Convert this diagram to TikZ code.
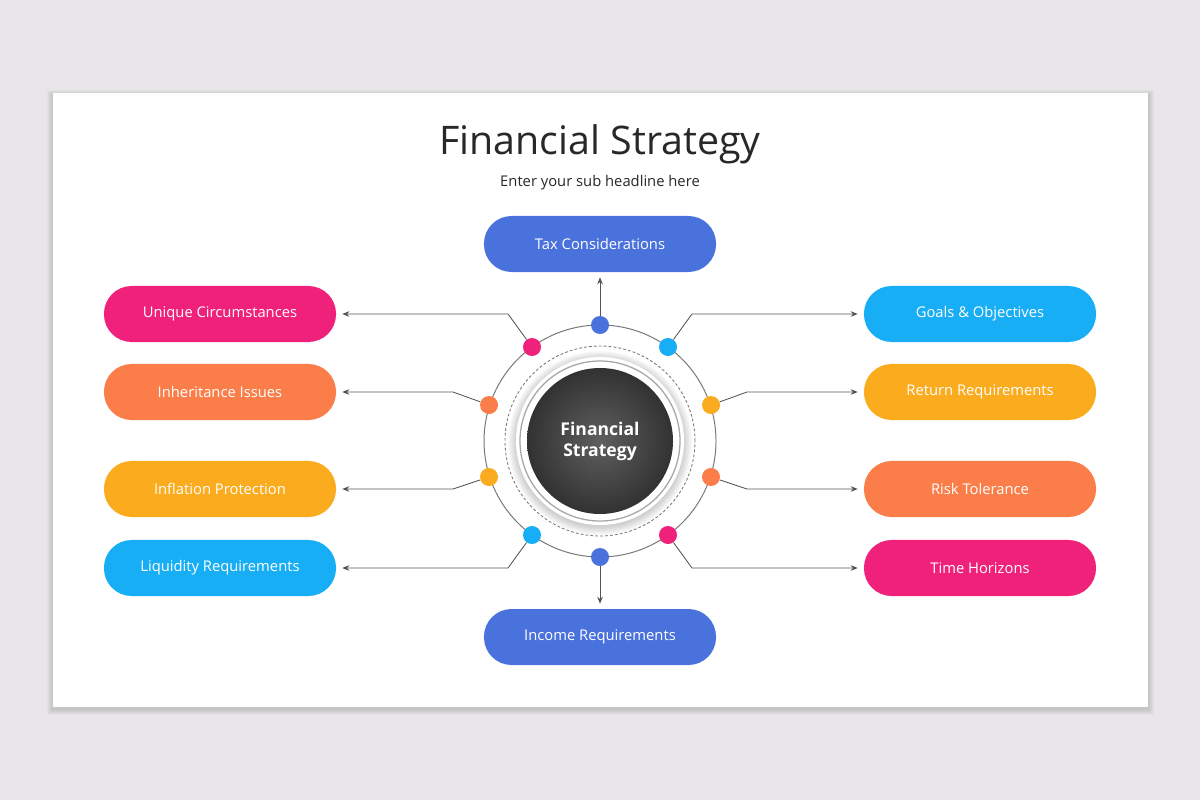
\documentclass[tikz,border=0pt]{standalone}
\usepackage{fontspec}
\setmainfont{Open Sans}
\usetikzlibrary{arrows.meta}
\definecolor{cblue}{HTML}{4A72DD}
\definecolor{cpink}{HTML}{F0217A}
\definecolor{corange}{HTML}{FB7E4A}
\definecolor{cyellow}{HTML}{FBAB1E}
\definecolor{ccyan}{HTML}{17AEF5}
\definecolor{cline}{HTML}{555555}
\definecolor{cbg}{HTML}{E8E6E8}
\definecolor{ctext}{HTML}{282828}
\begin{document}
\begin{tikzpicture}[x=0.025cm,y=-0.025cm,
 pill/.style={rounded corners=0.69cm,minimum width=5.8cm,minimum height=1.4cm,text=white,font=\fontsize{10.5}{12}\selectfont,inner sep=0pt},
 dot/.style={circle,minimum size=0.45cm,inner sep=0pt},
 conn/.style={draw=cline,line width=0.6pt,-{Stealth[length=5pt,width=4pt]}}]
\fill[cbg] (0,0) rectangle (1200,800);
\useasboundingbox (0,0) rectangle (1200,800);
\foreach \i in {1,...,6}{\fill[black,opacity=0.025] (53-\i,93-\i+3) rectangle (1148+\i,707+\i+2);}
\fill[white] (53,93) rectangle (1148,707);
\node[text=ctext,font=\fontsize{28}{32}\selectfont] (title) at (600,144) {Financial Strategy};
\node[text=ctext,font=\fontsize{10.5}{12}\selectfont] (sub) at (600,183) {Enter your sub headline here};
% rings
\draw[cline!80,line width=0.7pt] (600,441) circle[radius=116*0.025cm];
\draw[cline!80,line width=0.6pt,dash pattern=on 2pt off 1.5pt] (600,441) circle[radius=95*0.025cm];
\foreach \i in {1,...,6}{\fill[black,opacity=0.03] (600,443) circle[radius={(83+\i*1.5)*0.025cm}];}
\fill[white] (600,441) circle[radius=84*0.025cm];
\draw[gray!70,line width=0.9pt] (600,441) circle[radius=80*0.025cm];
\shade[inner color={rgb,255:red,95;green,95;blue,95},outer color={rgb,255:red,50;green,50;blue,50}] (600,441) circle[radius=73*0.025cm];
\node[text=white,font=\bfseries\fontsize{12.5}{15}\selectfont,align=center] (center) at (600,441) {Financial\\Strategy};
% pills
\node[pill,fill=cblue] (tax) at (600,244) {Tax Considerations};
\node[pill,fill=cblue] (inc) at (600,637) {Income Requirements};
\node[pill,fill=cpink] (uc) at (220,314) {Unique Circumstances};
\node[pill,fill=corange] (ii) at (220,392) {Inheritance Issues};
\node[pill,fill=cyellow] (ip) at (220,489) {Inflation Protection};
\node[pill,fill=ccyan] (lr) at (220,568) {Liquidity Requirements};
\node[pill,fill=ccyan] (go) at (980,314) {Goals \& Objectives};
\node[pill,fill=cyellow] (rr) at (980,392) {Return Requirements};
\node[pill,fill=corange] (rt) at (980,489) {Risk Tolerance};
\node[pill,fill=cpink] (th) at (980,568) {Time Horizons};
% dots
\node[dot,fill=cblue] (d1) at (600,325) {};
\node[dot,fill=cblue] (d2) at (600,557) {};
\node[dot,fill=cpink] (d3) at (532,347) {};
\node[dot,fill=ccyan] (d4) at (668,347) {};
\node[dot,fill=corange] (d5) at (489,405) {};
\node[dot,fill=cyellow] (d6) at (711,405) {};
\node[dot,fill=cyellow] (d7) at (489,477) {};
\node[dot,fill=corange] (d8) at (711,477) {};
\node[dot,fill=ccyan] (d9) at (532,535) {};
\node[dot,fill=cpink] (d10) at (668,535) {};
% connectors
\draw[conn] (d1) -- ([yshift=-0.125cm]tax.south);
\draw[conn] (d2) -- ([yshift=0.125cm]inc.north);
\draw[conn] (d3) -- (508,314) -- ([xshift=0.15cm]uc.east);
\draw[conn] (d5) -- (453,392) -- ([xshift=0.15cm]ii.east);
\draw[conn] (d7) -- (453,489) -- ([xshift=0.15cm]ip.east);
\draw[conn] (d9) -- (508,568) -- ([xshift=0.15cm]lr.east);
\draw[conn] (d4) -- (692,314) -- ([xshift=-0.15cm]go.west);
\draw[conn] (d6) -- (747,392) -- ([xshift=-0.15cm]rr.west);
\draw[conn] (d8) -- (747,489) -- ([xshift=-0.15cm]rt.west);
\draw[conn] (d10) -- (692,568) -- ([xshift=-0.15cm]th.west);
\end{tikzpicture}
\end{document}
